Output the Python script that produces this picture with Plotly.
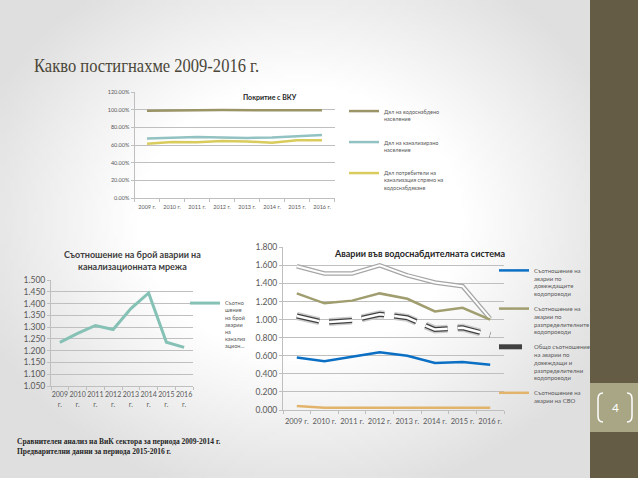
import base64
import struct
import zlib

import numpy as np
import plotly.graph_objects as go

# ---------------- data ----------------
years = ["2009 г.", "2010 г.", "2011 г.", "2012 г.", "2013 г.", "2014 г.", "2015 г.", "2016 г."]
years_wrapped = ["2009<br>г.", "2010<br>г.", "2011<br>г.", "2012<br>г.", "2013<br>г.", "2014<br>г.", "2015<br>г.", "2016<br>г."]

# chart 1: coverage (%)
pct_ticks = [0, 20, 40, 60, 80, 100, 120]
pct_tick_labels = ["0.00%", "20.00%", "40.00%", "60.00%", "80.00%", "100.00%", "120.00%"]
cov_water = [98.8, 99.4, 99.4, 99.5, 99.5, 99.5, 99.5, 99.4]
cov_sewer = [67.5, 68.0, 69.0, 68.5, 68.0, 68.5, 69.5, 71.3]
cov_sewer_vs_water = [61.5, 63.4, 63.2, 64.5, 64.0, 62.6, 65.3, 65.3]

# chart 2: sewer network failures ratio
sew_ratio = [1.235, 1.273, 1.307, 1.290, 1.379, 1.445, 1.236, 1.214]

# chart 3: water supply failures
acc_main = [0.58, 0.54, 0.59, 0.64, 0.60, 0.52, 0.53, 0.50]
acc_dist = [1.29, 1.18, 1.21, 1.29, 1.23, 1.09, 1.13, 1.00]
acc_total = [1.04, 0.97, 0.99, 1.06, 1.02, 0.89, 0.91, 0.83]
acc_top = [1.59, 1.51, 1.51, 1.60, 1.49, 1.41, 1.37, 1.01]
acc_sewer = [0.045, 0.025, 0.025, 0.025, 0.025, 0.025, 0.025, 0.025]

W, H = 638, 478


def px_x(v):
    return v / W


def px_y(v):
    return 1 - v / H


# ---------------- background gradient ----------------
def gray_png(arr):
    h, w = arr.shape
    raw = b"".join(b"\x00" + arr[i].astype(np.uint8).tobytes() for i in range(h))

    def chunk(t, d):
        c = struct.pack(">I", len(d)) + t + d
        return c + struct.pack(">I", zlib.crc32(t + d) & 0xFFFFFFFF)

    png = (b"\x89PNG\r\n\x1a\n"
           + chunk(b"IHDR", struct.pack(">IIBBBBB", w, h, 8, 0, 0, 0, 0))
           + chunk(b"IDAT", zlib.compress(raw))
           + chunk(b"IEND", b""))
    return "data:image/png;base64," + base64.b64encode(png).decode()


gw, gh = 160, 120
gx = (np.arange(gw) + 0.5) / gw * W
gy = (np.arange(gh) + 0.5) / gh * H
XX, YY = np.meshgrid(gx, gy)
d = np.sqrt(((XX - 300) / 300) ** 2 + ((YY - 220) / 250) ** 2)
bg = 255 - 32 * np.clip((d - 0.55) / 0.6, 0, 1)
bg_uri = gray_png(bg)

FONT = "Lato, 'Liberation Sans', sans-serif"
TITLE_FONT = "'Liberation Serif', serif"
GRID = "#bfbfbf"
TICKC = "#595959"

fig = go.Figure()

# ---------------- chart 1 ----------------
c1 = [("Дял на водоснабдено<br>население", cov_water, "#9a9466"),
      ("Дял на канализирано<br>население", cov_sewer, "#93c2c2"),
      ("Дял потребители на<br>канализация спрямо на<br>водоснабдяване", cov_sewer_vs_water, "#d9cc5c")]
for i, (name, vals, col) in enumerate(c1):
    fig.add_trace(go.Scatter(x=years, y=vals, name=name, mode="lines",
                             line=dict(color=col, width=2.5),
                             xaxis="x", yaxis="y", legend="legend",
                             legendgroup="a%d" % i))

# ---------------- chart 2 ----------------
fig.add_trace(go.Scatter(x=years_wrapped, y=sew_ratio,
                         name="Съотно<br>шение<br>на брой<br>аварии<br>на<br>канализ<br>ацион...",
                         mode="lines", line=dict(color="#86c1b6", width=3),
                         xaxis="x2", yaxis="y2", legend="legend2"))

# ---------------- chart 3 ----------------
DASH = "23px,10px"
fig.add_trace(go.Scatter(x=years, y=acc_top, mode="lines", showlegend=False,
                         line=dict(color="#a6a6a6", width=4.5), xaxis="x3", yaxis="y3",
                         hoverinfo="skip"))
fig.add_trace(go.Scatter(x=years, y=acc_top, mode="lines", showlegend=False,
                         line=dict(color="#ffffff", width=2), xaxis="x3", yaxis="y3"))
fig.add_trace(go.Scatter(x=years, y=acc_dist, mode="lines",
                         name="Съотношение на<br>аварии по<br>разпределителните<br>водопроводи",
                         line=dict(color="#a09d6e", width=2.5), xaxis="x3", yaxis="y3",
                         legend="legend3", legendgroup="b1", legendrank=2))
fig.add_trace(go.Scatter(x=years, y=acc_total, mode="lines", showlegend=False,
                         line=dict(color="#cccccc", width=8, dash=DASH),
                         xaxis="x3", yaxis="y3", hoverinfo="skip"))
fig.add_trace(go.Scatter(x=years, y=acc_total, mode="lines",
                         name="Общо съотношение<br>на аварии по<br>довеждащи и<br>разпределителни<br>водопроводи",
                         line=dict(color="#404040", width=5, dash=DASH),
                         xaxis="x3", yaxis="y3", legend="legend3", legendgroup="b2", legendrank=3))
fig.add_trace(go.Scatter(x=years, y=acc_total, mode="lines", showlegend=False,
                         line=dict(color="#ffffff", width=2.5, dash=DASH),
                         xaxis="x3", yaxis="y3", hoverinfo="skip"))
fig.add_trace(go.Scatter(x=years, y=acc_main, mode="lines",
                         name="Съотношение на<br>аварии по<br>довеждащите<br>водопроводи",
                         line=dict(color="#0b6fc4", width=2.5), xaxis="x3", yaxis="y3",
                         legend="legend3", legendgroup="b0", legendrank=1))
fig.add_trace(go.Scatter(x=years, y=acc_sewer, mode="lines",
                         name="Съотношение на<br>аварии на СВО",
                         line=dict(color="#e2b46b", width=2.5), xaxis="x3", yaxis="y3",
                         legend="legend3", legendgroup="b3", legendrank=4))

axis_common = dict(showgrid=False, showline=True, linecolor=GRID, ticks="outside",
                   tickcolor=GRID, ticklen=3, tickson="boundaries", zeroline=False,
                   range=[-0.5, 7.5], fixedrange=True, tickangle=0, automargin=False)
yaxis_common = dict(showgrid=True, gridcolor=GRID, gridwidth=1, showline=True,
                    linecolor=GRID, ticks="outside", tickcolor=GRID, ticklen=3,
                    zeroline=False, fixedrange=True, automargin=False)

legend_common = dict(bgcolor="rgba(0,0,0,0)", valign="top", xanchor="left", yanchor="top",
                     traceorder="grouped", itemwidth=30)

fig.update_layout(
    template="none",
    width=W, height=H, autosize=False,
    margin=dict(l=0, r=0, t=0, b=0, pad=0),
    paper_bgcolor="#ffffff", plot_bgcolor="rgba(0,0,0,0)",
    font=dict(family=FONT, color=TICKC),
    images=[dict(source=bg_uri, xref="paper", yref="paper", x=0, y=1, sizex=1, sizey=1,
                 sizing="stretch", layer="below")],
    xaxis=dict(axis_common, domain=[px_x(134.5), px_x(334.5)], anchor="y",
               ticklabelstandoff=3, tickfont=dict(size=5.5, color=TICKC)),
    yaxis=dict(yaxis_common, domain=[px_y(198), px_y(92)], anchor="x", range=[0, 120],
               tickmode="array", tickvals=pct_ticks, ticktext=pct_tick_labels,
               tickfont=dict(size=5.5, color=TICKC)),
    xaxis2=dict(axis_common, domain=[px_x(51), px_x(193)], anchor="y2",
                ticklabelstandoff=2, tickfont=dict(size=7, color=TICKC)),
    yaxis2=dict(yaxis_common, domain=[px_y(386), px_y(280)], anchor="x2", range=[1.05, 1.5],
                dtick=0.05, tickformat=".3f", tickfont=dict(size=8.5, color=TICKC)),
    xaxis3=dict(axis_common, domain=[px_x(283), px_x(504)], anchor="y3",
                ticklabelstandoff=4, tickfont=dict(size=7.5, color=TICKC)),
    yaxis3=dict(yaxis_common, domain=[px_y(410), px_y(247.3)], anchor="x3", range=[0, 1.8],
                dtick=0.2, tickformat=".3f", tickfont=dict(size=8.5, color=TICKC)),
    legend=dict(legend_common, x=px_x(344), y=px_y(101), tracegroupgap=12,
                font=dict(size=5.5, color=TICKC, family=FONT)),
    legend2=dict(legend_common, x=px_x(185), y=px_y(293), tracegroupgap=0,
                 font=dict(size=5.5, color=TICKC, family=FONT)),
    legend3=dict(legend_common, x=px_x(494), y=px_y(260), tracegroupgap=4,
                 font=dict(size=6, color=TICKC, family=FONT)),
    showlegend=True,
    hovermode=False,
)

# ---------------- slide decorations ----------------
fig.add_shape(type="rect", xref="paper", yref="paper", x0=px_x(590), x1=1, y0=0, y1=1,
              fillcolor="#645c45", line=dict(width=0), layer="above")
fig.add_shape(type="rect", xref="paper", yref="paper", x0=px_x(590), x1=1,
              y0=px_y(432), y1=px_y(383), fillcolor="#a8a684", line=dict(width=0), layer="above")
for path in ["M 603 393 Q 598 393 598 399 L 598 416 Q 598 422 603 422",
             "M 627 393 Q 632 393 632 399 L 632 416 Q 632 422 627 422"]:
    toks = path.split()
    out = []
    i = 0
    while i < len(toks):
        t = toks[i]
        if t.isalpha():
            out.append(t)
            i += 1
        else:
            out.append("%.5f,%.5f" % (px_x(float(toks[i])), px_y(float(toks[i + 1]))))
            i += 2
    fig.add_shape(type="path", xref="paper", yref="paper", path=" ".join(out),
                  line=dict(color="#ffffff", width=1.5), layer="above")

annotations = [
    dict(text="Какво постигнахме 2009-2016 г.", x=px_x(32), y=px_y(65), xanchor="left",
         yanchor="middle", font=dict(family=TITLE_FONT, size=19, color="#4a4638")),
    dict(text="<b>Покритие с ВКУ</b>", x=px_x(270), y=px_y(97), xanchor="center", yanchor="middle",
         font=dict(size=7, color="#262626")),
    dict(text="<b>Съотношение на брой аварии на<br>канализационната мрежа</b>", x=px_x(132),
         y=px_y(260), xanchor="center", yanchor="middle",
         font=dict(size=9, color="#404040")),
    dict(text="<b>Аварии във водоснабдителната система</b>", x=px_x(419), y=px_y(253),
         xanchor="center", yanchor="middle", font=dict(size=9, color="#262626")),
    dict(text="<b>Сравнителен анализ на ВиК сектора за периода 2009-2014 г.<br>"
              "Предварителни данни за периода 2015-2016 г.</b>",
         x=px_x(15), y=px_y(446), xanchor="left", yanchor="middle", align="left",
         font=dict(family="'Liberation Serif', serif", size=7.5, color="#262626")),
    dict(text="4", x=px_x(615), y=px_y(407.5), xanchor="center", yanchor="middle",
         font=dict(size=12, color="#ffffff")),
]
for a in annotations:
    a.update(xref="paper", yref="paper", showarrow=False)
fig.update_layout(annotations=annotations)

# page setup: no body margin, and the slide title set in a condensed width like the original
post = (
    "document.body.style.margin='0';document.body.style.overflow='hidden';"
    "document.querySelectorAll('text.annotation-text').forEach(function(t){"
    "if(t.textContent.indexOf('Какво')===0){"
    "t.style.transformBox='fill-box';t.style.transformOrigin='0% 50%';"
    "t.style.transform='scaleX(0.87)';}});"
)
fig.write_html("out.html", config={"displayModeBar": False}, post_script=post)
